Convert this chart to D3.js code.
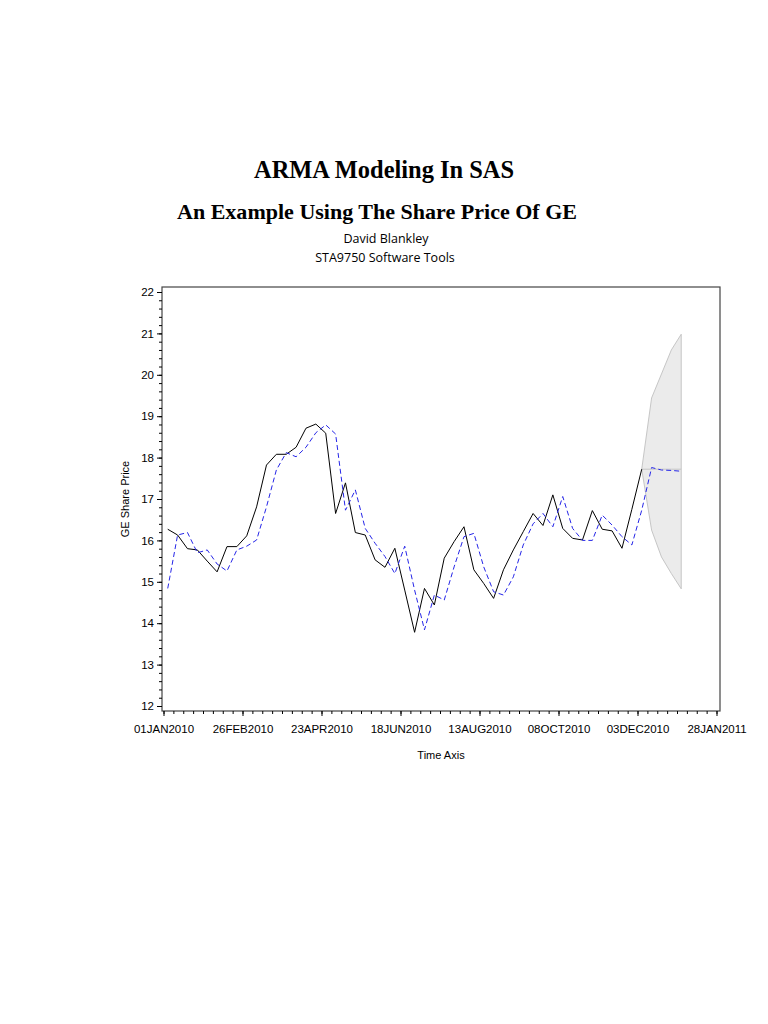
<!DOCTYPE html>
<meta charset="utf-8">
<style>
body { margin: 0; background: #fff; }
svg { display: block; }
.title { font-family: "Liberation Serif", "DejaVu Serif", serif; font-weight: bold; fill: #000; }
.sub { font-family: "Open Sans", "Noto Sans", sans-serif; font-size: 12.5px; fill: #000; }
.axis text { font-family: "Liberation Sans", Arial, sans-serif; font-size: 11.5px; fill: #000; }
.axis path, .axis line { stroke: #000; }
.lab { font-family: "Liberation Sans", Arial, sans-serif; font-size: 11px; fill: #000; }
</style>
<svg id="chart" width="768" height="1024"></svg>
<script src="https://d3js.org/d3.v7.min.js"></script>
<script>
// weekly closes (Mondays, 04JAN2010 .. 06DEC2010)
var actual = [16.27, 16.13, 15.80, 15.77, 15.50, 15.24, 15.85, 15.85, 16.11, 16.81,
  17.82, 18.08, 18.08, 18.25, 18.71, 18.81, 18.59, 16.65, 17.39, 16.19,
  16.13, 15.53, 15.35, 15.81, 14.80, 13.78, 14.84, 14.44, 15.57, 15.97,
  16.33, 15.29, 14.96, 14.60, 15.29, 15.77, 16.21, 16.65, 16.36, 17.10,
  16.29, 16.05, 16.01, 16.72, 16.27, 16.23, 15.81, 16.75, 17.72];

// one step ahead forecasts, 04JAN2010 .. 03JAN2011
var forecast = [14.84, 16.13, 16.19, 15.70, 15.77, 15.43, 15.26, 15.77, 15.86, 16.01,
  16.81, 17.70, 18.12, 18.02, 18.25, 18.60, 18.79, 18.57, 16.73, 17.22,
  16.29, 15.93, 15.61, 15.20, 15.86, 14.80, 13.84, 14.68, 14.56, 15.36,
  16.09, 16.17, 15.36, 14.76, 14.68, 15.12, 15.89, 16.40, 16.65, 16.33,
  17.06, 16.29, 16.00, 16.00, 16.61, 16.37, 16.09, 15.89, 16.73, 17.76,
  17.70, 17.69, 17.67];

// 95% band, 06DEC2010 .. 03JAN2011
var upper95 = [17.72, 19.44, 20.02, 20.60, 20.98];
var lower95 = [17.72, 16.25, 15.60, 15.20, 14.83];
var lastObs = [17.72, 17.72, 17.72, 17.72, 17.72];

var yTicks = [12, 13, 14, 15, 16, 17, 18, 19, 20, 21, 22];

var weeks = d3.utcMonday.range(new Date(Date.UTC(2010, 0, 4)), new Date(Date.UTC(2011, 0, 4)));
var bandWeeks = weeks.slice(weeks.length - upper95.length);

var svg = d3.select("#chart");

// titles
svg.append("text").attr("class", "title").attr("x", 384).attr("y", 178)
  .attr("text-anchor", "middle").style("font-size", "26px")
  .attr("textLength", 260).attr("lengthAdjust", "spacingAndGlyphs")
  .text("ARMA Modeling In SAS");
svg.append("text").attr("class", "title").attr("x", 377).attr("y", 219)
  .attr("text-anchor", "middle").style("font-size", "22px")
  .attr("textLength", 400).attr("lengthAdjust", "spacingAndGlyphs")
  .text("An Example Using The Share Price Of GE");
svg.append("text").attr("class", "sub").attr("x", 386).attr("y", 243)
  .attr("text-anchor", "middle").text("David Blankley");
svg.append("text").attr("class", "sub").attr("x", 385).attr("y", 262)
  .attr("text-anchor", "middle").text("STA9750 Software Tools");

var pLeft = 162, pRight = 720, pTop = 287, pBottom = 711;

var x = d3.scaleUtc()
  .domain([new Date(Date.UTC(2010, 0, 1)), new Date(Date.UTC(2011, 0, 28))])
  .range([163.5, 716.5]);
var y = d3.scaleLinear().domain([12, 22]).range([706, 292]);

// forecast band
var area = d3.area()
  .x(function(d, i) { return x(bandWeeks[i]); })
  .y0(function(d, i) { return y(lower95[i]); })
  .y1(function(d) { return y(d); });
svg.append("path").datum(upper95)
  .attr("d", area)
  .attr("fill", "#ebebeb").attr("stroke", "none");
svg.append("path").datum(upper95.concat(lower95.slice().reverse()))
  .attr("d", d3.line()
    .x(function(d, i) { var n = upper95.length; return x(bandWeeks[i < n ? i : 2 * n - 1 - i]); })
    .y(function(d) { return y(d); }))
  .attr("fill", "none").attr("stroke", "#c6c6c6").attr("stroke-width", 1);
svg.append("path").datum(lastObs)
  .attr("d", d3.line()
    .x(function(d, i) { return x(bandWeeks[i]); })
    .y(function(d) { return y(d); }))
  .attr("fill", "none").attr("stroke", "#c6c6c6").attr("stroke-width", 1);

// series
svg.append("path").datum(actual)
  .attr("d", d3.line()
    .x(function(d, i) { return x(weeks[i]); })
    .y(function(d) { return y(d); }))
  .attr("fill", "none").attr("stroke", "#000").attr("stroke-width", 1);

svg.append("path").datum(forecast)
  .attr("d", d3.line()
    .x(function(d, i) { return x(weeks[i]); })
    .y(function(d) { return y(d); }))
  .attr("fill", "none").attr("stroke", "#2525e8").attr("stroke-width", 1)
  .attr("stroke-dasharray", "5,3");

// frame
svg.append("rect").attr("x", pLeft).attr("y", pTop)
  .attr("width", pRight - pLeft).attr("height", pBottom - pTop)
  .attr("fill", "none").attr("stroke", "#444").attr("stroke-width", 1.2);

// y axis
var yMinor = d3.range(12, 22.001, 0.2);
svg.append("g").attr("class", "axis")
  .attr("transform", "translate(" + pLeft + ",0)")
  .call(d3.axisLeft(y).tickValues(yMinor).tickSize(3).tickFormat(""))
  .call(function(g) { g.select(".domain").remove(); });
svg.append("g").attr("class", "axis")
  .attr("transform", "translate(" + pLeft + ",0)")
  .call(d3.axisLeft(y).tickValues(yTicks).tickSize(5).tickPadding(3).tickFormat(d3.format("d")))
  .call(function(g) { g.select(".domain").remove(); });

// x axis: labels every 8 weeks, minor ticks weekly
var start = new Date(Date.UTC(2010, 0, 1));
var xMajor = d3.range(0, 8).map(function(k) { return d3.utcDay.offset(start, 56 * k); });
var xMinor = d3.range(0, 57).map(function(k) { return d3.utcDay.offset(start, 7 * k); });
var fmt = d3.utcFormat("%d%b%Y");
svg.append("g").attr("class", "axis")
  .attr("transform", "translate(0," + pBottom + ")")
  .call(d3.axisBottom(x).tickValues(xMinor).tickSize(3).tickFormat(""))
  .call(function(g) { g.select(".domain").remove(); });
svg.append("g").attr("class", "axis")
  .attr("transform", "translate(0," + pBottom + ")")
  .call(d3.axisBottom(x).tickValues(xMajor).tickSize(5).tickPadding(9)
    .tickFormat(function(d) { return fmt(d).toUpperCase(); }))
  .call(function(g) { g.select(".domain").remove(); });

svg.append("text").attr("class", "lab").attr("x", 441).attr("y", 759)
  .attr("text-anchor", "middle").text("Time Axis");
svg.append("text").attr("class", "lab")
  .attr("transform", "translate(129,499) rotate(-90)")
  .attr("text-anchor", "middle").text("GE Share Price");
</script>
